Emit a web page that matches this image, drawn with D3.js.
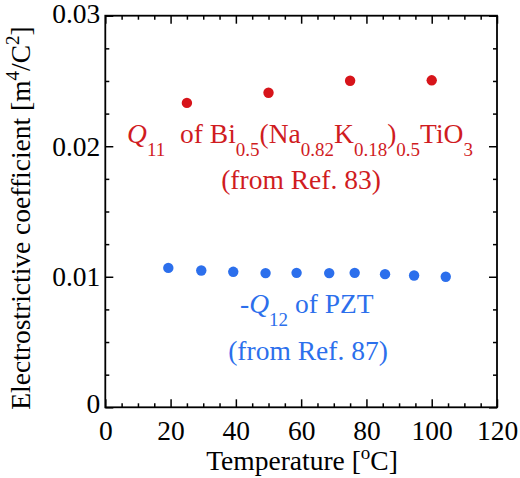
<html>
<head>
<meta charset="utf-8">
<title>Electrostrictive coefficient</title>
<script src="https://d3js.org/d3.v7.min.js"></script>
<style>
  body { margin: 0; background: #fff; }
  text { font-family: "Liberation Serif", "Times New Roman", serif; }
</style>
</head>
<body>
<svg width="520" height="478"></svg>
<script>
// Q11 of BNKT (Ref. 83)
var bnktTemp = [25, 50, 75, 100];
var bnktQ = [0.02332, 0.02410, 0.02502, 0.02505];
// -Q12 of PZT (Ref. 87)
var pztTemp = [19.3, 29.4, 39.2, 49.1, 58.6, 68.6, 76.4, 85.7, 94.6, 104.3];
var pztQ = [0.01068, 0.01048, 0.01038, 0.01028, 0.01030, 0.01028, 0.01030, 0.01020, 0.01010, 0.01000];
var xMajor = [0, 20, 40, 60, 80, 100, 120];
var yMajor = [0, 0.01, 0.02, 0.03];

var svg = d3.select("svg"),
    mLeft = 105.3, mRight = 497, mTop = 15.7, mBottom = 407.3,
    fs = "27.5px", sub = "19px";

var x = d3.scaleLinear().domain([0, 120]).range([mLeft, mRight]);
var y = d3.scaleLinear().domain([0, 0.03]).range([mBottom, mTop]);

var xMinor = d3.range(0, 121, 5).filter(d => d % 20 !== 0);
var yMinor = d3.range(0, 0.0301, 0.0025).filter(d => Math.abs(d / 0.01 - Math.round(d / 0.01)) > 1e-6);

function styleAxis(g) {
    g.select(".domain").remove();
    g.selectAll("line").attr("stroke", "#000").attr("stroke-width", 1.5);
    g.selectAll("text").attr("fill", "#000").style("font-size", fs)
        .style("font-family", "'Liberation Serif', 'Times New Roman', serif");
}

// bottom
svg.append("g").attr("transform", `translate(0,${mBottom})`)
    .call(d3.axisBottom(x).tickValues(xMajor).tickSize(-8).tickPadding(13).tickFormat(d3.format("d")))
    .call(styleAxis);
svg.append("g").attr("transform", `translate(0,${mBottom})`)
    .call(d3.axisBottom(x).tickValues(xMinor).tickSize(-4).tickFormat(""))
    .call(styleAxis);
// top
svg.append("g").attr("transform", `translate(0,${mTop})`)
    .call(d3.axisTop(x).tickValues(xMajor).tickSize(-8).tickFormat(""))
    .call(styleAxis);
svg.append("g").attr("transform", `translate(0,${mTop})`)
    .call(d3.axisTop(x).tickValues(xMinor).tickSize(-4).tickFormat(""))
    .call(styleAxis);
// left
svg.append("g").attr("transform", `translate(${mLeft},0)`)
    .call(d3.axisLeft(y).tickValues(yMajor).tickSize(-8).tickPadding(5).tickFormat(d => d === 0 ? "0" : d3.format(".2f")(d)))
    .call(styleAxis)
    .selectAll("text").attr("dy", d => d === 0.03 ? "0.25em" : d === 0 ? "0.2em" : "0.32em");
svg.append("g").attr("transform", `translate(${mLeft},0)`)
    .call(d3.axisLeft(y).tickValues(yMinor).tickSize(-4).tickFormat(""))
    .call(styleAxis);
// right
svg.append("g").attr("transform", `translate(${mRight},0)`)
    .call(d3.axisRight(y).tickValues(yMajor).tickSize(-8).tickFormat(""))
    .call(styleAxis);
svg.append("g").attr("transform", `translate(${mRight},0)`)
    .call(d3.axisRight(y).tickValues(yMinor).tickSize(-4).tickFormat(""))
    .call(styleAxis);

// frame
svg.append("rect")
    .attr("x", mLeft).attr("y", mTop)
    .attr("width", mRight - mLeft).attr("height", mBottom - mTop)
    .attr("fill", "none").attr("stroke", "#000").attr("stroke-width", 1.8);

// points
svg.append("g").selectAll("circle")
    .data(bnktTemp.map((t, i) => [t, bnktQ[i]]))
    .enter().append("circle")
    .attr("cx", d => x(d[0])).attr("cy", d => y(d[1]))
    .attr("r", 5.2).attr("fill", "#d7141a");
svg.append("g").selectAll("circle")
    .data(pztTemp.map((t, i) => [t, pztQ[i]]))
    .enter().append("circle")
    .attr("cx", d => x(d[0])).attr("cy", d => y(d[1]))
    .attr("r", 5.2).attr("fill", "#2c6fec");

// red label
var red = "#d01c1f", blue = "#2c6fec";
var t1 = svg.append("text").attr("x", 127).attr("y", 143).attr("fill", red).style("font-size", fs);
t1.append("tspan").style("font-style", "italic").text("Q");
t1.append("tspan").attr("dy", 13).style("font-size", sub).text("11");
t1.append("tspan").attr("dy", -13).attr("dx", 8).text(" of Bi");
t1.append("tspan").attr("dy", 13).style("font-size", sub).text("0.5");
t1.append("tspan").attr("dy", -13).text("(Na");
t1.append("tspan").attr("dy", 13).style("font-size", sub).text("0.82");
t1.append("tspan").attr("dy", -13).text("K");
t1.append("tspan").attr("dy", 13).style("font-size", sub).text("0.18");
t1.append("tspan").attr("dy", -13).text(")");
t1.append("tspan").attr("dy", 13).style("font-size", sub).text("0.5");
t1.append("tspan").attr("dy", -13).text("TiO");
t1.append("tspan").attr("dy", 13).style("font-size", sub).text("3");

svg.append("text").attr("x", 301).attr("y", 189).attr("text-anchor", "middle")
    .attr("fill", red).style("font-size", fs).text("(from Ref. 83)");

// blue label
var t2 = svg.append("text").attr("x", 240).attr("y", 313).attr("fill", blue).style("font-size", fs);
t2.append("tspan").text("-");
t2.append("tspan").style("font-style", "italic").text("Q");
t2.append("tspan").attr("dy", 13).style("font-size", sub).text("12");
t2.append("tspan").attr("dy", -13).text(" of PZT");

svg.append("text").attr("x", 308).attr("y", 360).attr("text-anchor", "middle")
    .attr("fill", blue).style("font-size", fs).text("(from Ref. 87)");

// axis titles
var xt = svg.append("text").attr("x", 302).attr("y", 470).attr("text-anchor", "middle")
    .style("font-size", fs).attr("fill", "#000");
xt.append("tspan").text("Temperature [");
xt.append("tspan").attr("dy", -11).style("font-size", sub).text("o");
xt.append("tspan").attr("dy", 11).text("C]");

var yt = svg.append("text").attr("transform", "translate(30,218) rotate(-90)")
    .attr("text-anchor", "middle").style("font-size", fs).attr("fill", "#000");
yt.append("tspan").text("Electrostrictive coefficient [m");
yt.append("tspan").attr("dy", -11).style("font-size", sub).text("4");
yt.append("tspan").attr("dy", 11).text("/C");
yt.append("tspan").attr("dy", -11).style("font-size", sub).text("2");
yt.append("tspan").attr("dy", 11).text("]");
</script>
</body>
</html>
